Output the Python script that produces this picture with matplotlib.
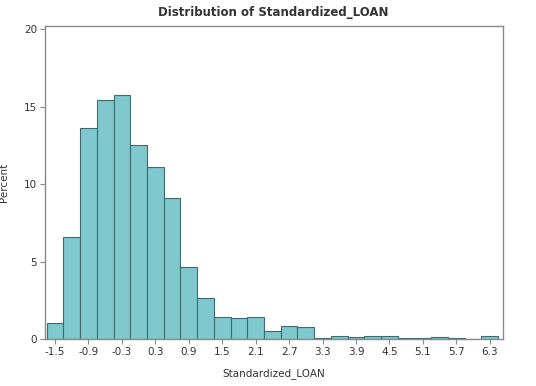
import numpy as np
import matplotlib
matplotlib.use("Agg")
import matplotlib.pyplot as plt

# ── DATA ──────────────────────────────────────────────────────────────────────
# bin midpoints (width 0.3) and percent of observations in each bin
bin_mids = [-1.5, -1.2, -0.9, -0.6, -0.3, 0.0, 0.3, 0.6, 0.9, 1.2, 1.5, 1.8,
            2.1, 2.4, 2.7, 3.0, 3.3, 3.6, 3.9, 4.2, 4.5, 4.8, 5.1, 5.4, 5.7,
            6.0, 6.3]
percent = [1.03, 6.6, 13.6, 15.45, 15.75, 12.5, 11.1, 9.1, 4.65, 2.65, 1.45,
           1.35, 1.4, 0.52, 0.86, 0.8, 0.04, 0.21, 0.11, 0.21, 0.19, 0.04,
           0.06, 0.15, 0.09, 0.02, 0.17]
bin_width = 0.3

x_ticks = [-1.5, -0.9, -0.3, 0.3, 0.9, 1.5, 2.1, 2.7, 3.3, 3.9, 4.5, 5.1,
           5.7, 6.3]
y_ticks = [0, 5, 10, 15, 20]

# ── STYLE ─────────────────────────────────────────────────────────────────────
FILL = "#7ec8ce"
EDGE = "#3d6c70"
FRAME = "#8a8a8a"
TEXT = "#333333"

fig = plt.figure(figsize=(5.36, 3.86), dpi=100)
ax = fig.add_axes([0.0834, 0.1218, 0.8546, 0.8108])

ax.bar(bin_mids, percent, width=bin_width, color=FILL, edgecolor=EDGE,
       linewidth=0.8, align="center")

ax.set_xlim(-1.685, 6.533)
ax.set_ylim(0, 20.2)
ax.set_xticks(x_ticks)
ax.set_xticklabels([f"{t:.1f}" for t in x_ticks])
ax.set_yticks(y_ticks)

for sp in ax.spines.values():
    sp.set_color(FRAME)
    sp.set_linewidth(1.0)

ax.tick_params(axis="both", direction="out", length=3.5, width=0.8,
               color=FRAME, labelsize=7.5, labelcolor=TEXT, pad=2)

ax.set_title("Distribution of Standardized_LOAN", fontsize=8.5,
             fontweight="bold", color=TEXT, pad=7)
ax.set_xlabel("Standardized_LOAN", fontsize=7.5, color=TEXT, labelpad=8)
ax.set_ylabel("Percent", fontsize=7.5, color=TEXT)
ax.yaxis.set_label_coords(-0.078, 0.5)

fig.savefig("out.png", dpi=100)
